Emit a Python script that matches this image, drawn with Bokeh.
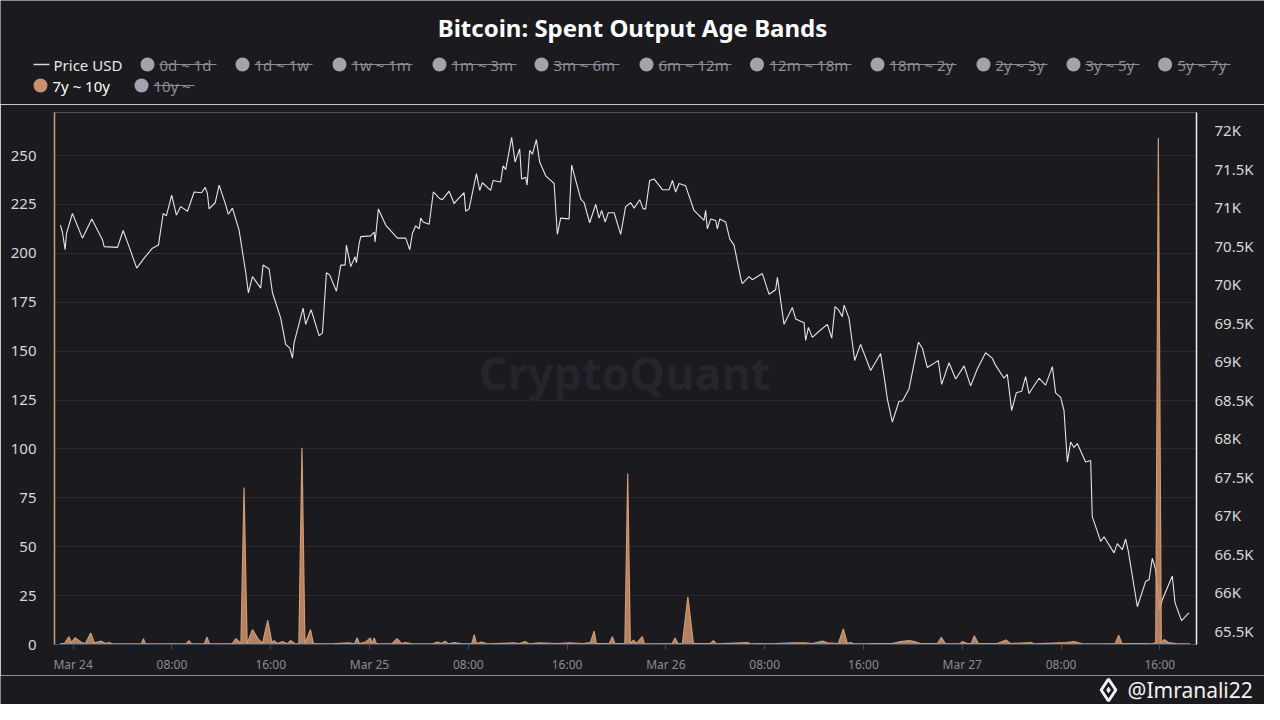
import pandas as pd
from bokeh.plotting import figure
from bokeh.models import (Range1d, LinearAxis, FixedTicker, CustomJSTickFormatter,
                          Label, ColumnDataSource)
from bokeh.embed import file_html
from bokeh.resources import INLINE
from bokeh.core.properties import value

# ---------------- data ----------------
START = pd.Timestamp("2024-03-24 00:00")

# hours after Mar 24 00:00 and BTC price (USD)
price_hours = [
    -1.03, -0.87, -0.65, -0.54, -0.06, 0.75, 1.51, 2.37, 2.51, 3.59,
    4.05, 4.53, 5.15, 5.75, 6.42, 6.91, 7.29, 7.55, 7.98, 8.36,
    8.71, 9.26, 9.80, 10.41, 10.69, 10.87, 11.01, 11.50, 11.82, 12.36,
    12.57, 12.90, 13.44, 13.98, 14.19, 14.52, 15.19, 15.38, 15.87, 16.14,
    16.81, 17.21, 17.54, 17.76, 17.89, 18.62, 18.83, 19.27, 19.92, 20.19,
    20.51, 20.78, 21.32, 21.67, 22.02, 22.13, 22.48, 22.83, 22.94, 23.16,
    23.29, 24.10, 24.37, 24.45, 24.72, 25.31, 26.26, 26.93, 27.26, 27.47,
    27.74, 28.02, 28.15, 28.34, 28.83, 29.17, 29.64, 29.90, 30.45, 30.85,
    31.12, 31.66, 31.79, 32.06, 32.66, 32.92, 33.14, 33.81, 34.01, 34.62,
    34.82, 35.03, 35.51, 35.79, 36.16, 36.32, 36.65, 36.76, 36.97, 37.19,
    37.51, 37.78, 38.27, 38.67, 38.95, 39.21, 39.48, 40.16, 40.37, 41.10,
    41.38, 41.83, 42.32, 42.59, 42.80, 43.08, 43.34, 43.81, 44.34, 44.74,
    45.15, 45.43, 45.88, 46.16, 46.36, 46.69, 47.04, 47.72, 48.26, 48.53,
    48.79, 49.07, 49.60, 50.28, 51.09, 51.22, 51.36, 51.63, 52.03, 52.17,
    52.36, 52.84, 53.17, 53.52, 54.06, 54.19, 54.74, 55.00, 55.81, 56.36,
    56.89, 57.03, 57.57, 58.24, 58.51, 59.19, 59.32, 59.54, 59.86, 60.40,
    61.08, 61.43, 61.70, 61.97, 62.29, 62.43, 62.83, 63.29, 63.77, 64.58,
    65.39, 65.75, 65.93, 66.34, 66.88, 67.15, 67.69, 68.45, 68.77, 69.17,
    69.58, 70.06, 70.33, 70.93, 71.47, 72.15, 72.68, 73.22, 73.89, 74.43,
    74.66, 75.38, 75.65, 76.00, 76.38, 76.81, 77.13, 77.41, 77.68, 78.22,
    78.75, 79.30, 79.56, 79.97, 80.24, 80.51, 80.78, 81.05, 81.32, 81.99,
    82.40, 82.53, 83.21, 83.48, 84.29, 84.56, 84.96, 85.23, 85.45, 86.18,
    86.85, 87.13, 87.39, 87.66, 87.98, 88.20, 89.01, 89.23, 89.76, 90.36,
]
price_usd = [
    70770, 70680, 70450, 70660, 70920, 70600, 70850, 70580, 70490, 70480,
    70700, 70490, 70210, 70340, 70470, 70510, 70920, 70890, 71160, 70900,
    71010, 70950, 71200, 71190, 71260, 71180, 70980, 71060, 71290, 71030,
    70910, 70990, 70700, 70150, 69890, 70100, 69950, 70250, 70200, 69890,
    69560, 69220, 69170, 69040, 69240, 69690, 69480, 69670, 69330, 69370,
    70150, 70120, 69910, 70250, 70250, 70510, 70230, 70360, 70280, 70530,
    70620, 70630, 70680, 70550, 70980, 70770, 70600, 70600, 70450, 70660,
    70760, 70720, 70860, 70810, 70780, 71200, 71120, 71100, 71210, 71050,
    71100, 71190, 70950, 70980, 71440, 71220, 71320, 71220, 71350, 71330,
    71540, 71490, 71910, 71590, 71760, 71370, 71390, 71290, 71740, 71690,
    71880, 71590, 71410, 71350, 71310, 70650, 70860, 70850, 71550, 71110,
    71060, 70800, 71040, 70860, 70960, 70810, 70930, 70930, 70650, 71010,
    71060, 70990, 71100, 70980, 70980, 71350, 71370, 71230, 71230, 71350,
    71200, 71310, 71280, 70960, 70830, 70960, 70720, 70850, 70830, 70720,
    70850, 70810, 70590, 70510, 70080, 70010, 70100, 70060, 70140, 69870,
    69930, 70090, 69480, 69700, 69550, 69500, 69270, 69440, 69310, 69390,
    69480, 69300, 69710, 69670, 69580, 69730, 69560, 69010, 69220, 68880,
    69100, 68720, 68510, 68210, 68480, 68480, 68640, 69250, 69170, 68920,
    68960, 69010, 68700, 68980, 68770, 68940, 68680, 68900, 69110, 69040,
    68960, 68780, 68830, 68360, 68590, 68610, 68800, 68580, 68650, 68780,
    68690, 68930, 68590, 68530, 68360, 67690, 67950, 67880, 67930, 67690,
    67710, 66980, 66660, 66720, 66510, 66630, 66550, 66690, 66530, 65810,
    66140, 66160, 66440, 66290, 65770, 65900, 66210, 65860, 65630, 65730,
]

# hours after Mar 24 00:00 and spent output (7y ~ 10y band)
band_hours = [
    -1.03, -0.70, -0.35, -0.14, 0.15, 0.67, 1.00, 1.42, 1.72, 2.29,
    2.62, 2.89, 3.18, 5.53, 5.69, 5.85, 9.17, 9.37, 9.58, 10.63,
    10.83, 11.04, 12.90, 13.19, 13.59, 13.84, 14.09, 14.52, 14.96, 15.33,
    15.76, 16.10, 16.26, 16.54, 16.95, 17.35, 17.60, 18.00, 18.28, 18.53,
    18.77, 19.21, 19.46, 21.00, 22.29, 22.78, 23.00, 23.18, 23.67, 24.07,
    24.23, 24.38, 24.56, 25.85, 26.23, 26.58, 26.91, 27.47, 29.09, 29.54,
    29.82, 30.12, 30.39, 30.87, 31.52, 32.29, 32.48, 32.66, 33.06, 33.55,
    35.73, 36.14, 36.60, 36.95, 37.76, 39.21, 40.19, 41.24, 41.89, 42.19,
    42.37, 43.42, 43.66, 43.87, 44.47, 44.68, 44.91, 45.12, 45.37, 45.61,
    46.09, 46.26, 48.52, 48.74, 48.97, 49.34, 49.78, 50.23, 51.60, 51.85,
    52.09, 54.64, 54.84, 56.87, 58.24, 59.30, 59.86, 60.67, 61.08, 61.97,
    62.37, 62.69, 62.94, 63.26, 64.07, 65.04, 66.34, 66.99, 67.72, 68.12,
    68.61, 69.99, 70.31, 70.63, 71.84, 72.00, 72.41, 72.73, 72.97, 73.30,
    74.84, 75.54, 75.89, 77.59, 77.84, 80.40, 81.07, 81.72, 83.34, 84.39,
    84.67, 84.92, 86.58, 87.39, 87.67, 87.88, 88.12, 88.35, 88.70, 89.42,
    90.47,
]
band_7y_10y = [
    0.5, 0.5, 3.9, 1.0, 3.4, 1.0, 0.5, 5.9, 0.8, 1.7,
    0.5, 1.0, 0.3, 0.3, 3.0, 0.3, 0.3, 2.0, 0.3, 0.3,
    3.8, 0.3, 0.5, 3.0, 0.5, 80.3, 0.5, 7.6, 3.0, 0.5,
    12.4, 0.8, 2.0, 0.5, 1.5, 0.3, 2.0, 0.3, 0.5, 100.6,
    0.5, 7.6, 0.5, 0.3, 0.8, 0.3, 3.4, 0.5, 1.2, 3.4,
    0.5, 3.4, 0.3, 0.5, 3.0, 0.5, 1.0, 0.3, 0.3, 1.2,
    0.5, 1.7, 0.3, 1.0, 0.3, 0.5, 5.0, 0.5, 1.2, 0.3,
    0.8, 0.5, 1.5, 0.3, 0.8, 0.5, 0.8, 0.5, 1.0, 6.8,
    0.5, 0.5, 4.0, 0.5, 0.5, 0.5, 87.4, 0.5, 2.2, 0.5,
    4.0, 0.3, 0.5, 3.3, 0.5, 0.5, 24.4, 0.5, 0.5, 2.0,
    0.3, 1.0, 0.3, 0.5, 0.8, 0.8, 0.5, 1.7, 0.8, 0.5,
    8.0, 0.5, 1.0, 0.3, 0.3, 0.5, 0.5, 1.5, 2.0, 1.5,
    0.5, 0.5, 3.7, 0.3, 0.5, 1.5, 0.5, 0.5, 4.4, 0.5,
    0.5, 2.3, 0.5, 1.0, 0.3, 1.0, 1.5, 0.3, 0.3, 0.5,
    4.7, 0.5, 0.5, 0.3, 1.0, 259.0, 1.0, 2.5, 1.0, 0.3,
    0.3,
]

left_ticks = [0, 25, 50, 75, 100, 125, 150, 175, 200, 225, 250]
price_ticks = [65500, 66000, 66500, 67000, 67500, 68000, 68500,
               69000, 69500, 70000, 70500, 71000, 71500, 72000]

title_text = "Bitcoin: Spent Output Age Bands"
legend_off = ["0d ~ 1d", "1d ~ 1w", "1w ~ 1m", "1m ~ 3m", "3m ~ 6m", "6m ~ 12m",
              "12m ~ 18m", "18m ~ 2y", "2y ~ 3y", "3y ~ 5y", "5y ~ 7y"]
legend_on_band = "7y ~ 10y"
legend_off_row2 = "10y ~"
handle_text = "@Imranali22"
watermark_text = "CryptoQuant"

# ---------------- styling / layout ----------------
BG = "#1a1a1f"
ORANGE_FILL = "#c8916d"
ORANGE_LINE = "#d39a72"
GRAY_TXT = "#8e8e98"
GRAY_DOT = "#a3a3ae"
FONT = value("Noto Sans")

assert len(price_hours) == len(price_usd)
assert len(band_hours) == len(band_7y_10y)


def strip(height):
    f = figure(width=1264, height=height, x_range=Range1d(0, 1264), y_range=Range1d(0, height),
               output_backend="svg", toolbar_location=None, min_border=0,
               x_axis_location=None, y_axis_location=None,
               background_fill_color=BG, border_fill_color=BG, outline_line_color=None)
    f.grid.visible = False
    return f


# ---- header: title + legend (pixel coordinates inside the strip) ----
row1_y, row2_y = 40, 19
dot_x = [147, 242, 339, 439, 541, 646, 756.5, 877, 983, 1073, 1164.6]
txt_x0 = [159, 254, 351, 451, 553, 658, 769, 889, 995, 1085, 1177]
txt_x1 = [216, 312, 412, 516, 619, 731, 851, 956, 1047, 1139, 1230]

hdr = strip(104)
hdr.text(x=[632], y=[77], text=[title_text], text_font=FONT, text_font_style="bold",
         text_font_size="24px", text_color="#ffffff", text_align="center",
         text_baseline="middle")
hdr.segment(x0=[33], y0=[row1_y], x1=[49], y1=[row1_y], line_color="#d8d8d8", line_width=1.5)
hdr.text(x=[53], y=[row1_y], text=["Price USD"], text_font=FONT, text_font_size="15px",
         text_color="#e8e8e8", text_align="left", text_baseline="middle")
hdr.scatter(x=dot_x, y=[row1_y] * len(dot_x), size=14, fill_color=GRAY_DOT, line_color=None)
hdr.text(x=txt_x0, y=[row1_y] * len(txt_x0), text=legend_off, text_font=FONT,
         text_font_size="15px", text_color=GRAY_TXT, text_align="left", text_baseline="middle")
hdr.segment(x0=txt_x0, y0=[row1_y] * len(txt_x0), x1=txt_x1, y1=[row1_y] * len(txt_x1),
            line_color=GRAY_TXT, line_width=1.2)
hdr.scatter(x=[40], y=[row2_y], size=14, fill_color=ORANGE_FILL, line_color=None)
hdr.text(x=[52], y=[row2_y], text=[legend_on_band], text_font=FONT, text_font_size="15px",
         text_color="#ffffff", text_align="left", text_baseline="middle")
hdr.scatter(x=[141], y=[row2_y], size=14, fill_color=GRAY_DOT, line_color=None)
hdr.text(x=[153], y=[row2_y], text=[legend_off_row2], text_font=FONT, text_font_size="15px",
         text_color=GRAY_TXT, text_align="left", text_baseline="middle")
hdr.segment(x0=[153], y0=[row2_y], x1=[194], y1=[row2_y], line_color=GRAY_TXT, line_width=1.2)

# ---------------- main chart ----------------
def ms(ts):
    return ts.value / 1e6


x_start = ms(START + pd.Timedelta(hours=-1.51))
x_end = ms(START + pd.Timedelta(hours=90.97))

p = figure(width=1264, height=571, x_axis_type="datetime",
           x_range=Range1d(x_start, x_end), y_range=Range1d(0, 272),
           output_backend="svg", toolbar_location=None,
           min_border_left=54, min_border_right=68, min_border_top=8, min_border_bottom=28,
           background_fill_color=BG, border_fill_color=BG, outline_line_color=None)

p.extra_y_ranges = {"price": Range1d(65319, 72233)}

price_src = ColumnDataSource(dict(
    t=START + pd.to_timedelta(price_hours, unit="h"), price=price_usd))
band_src = ColumnDataSource(dict(
    t=START + pd.to_timedelta(band_hours, unit="h"), v=band_7y_10y))

p.line(x="t", y="price", source=price_src, y_range_name="price",
       line_color="#e6e6e6", line_width=1.1)
p.varea(x="t", y1=0, y2="v", source=band_src, fill_color=ORANGE_FILL, fill_alpha=0.88)
p.line(x="t", y="v", source=band_src, line_color=ORANGE_LINE, line_width=1.2)

xticks = [ms(START + pd.Timedelta(hours=8 * k)) for k in range(0, 12)]
xa = p.xaxis[0]
xa.ticker = FixedTicker(ticks=xticks)
xa.formatter = CustomJSTickFormatter(code="""
const d = new Date(tick);
const h = d.getUTCHours();
const m = ["Jan","Feb","Mar","Apr","May","Jun","Jul","Aug","Sep","Oct","Nov","Dec"];
if (h === 0) { return m[d.getUTCMonth()] + " " + d.getUTCDate(); }
return (h < 10 ? "0" + h : "" + h) + ":00";
""")
xa.axis_line_color = "#4a4a52"
xa.major_tick_line_color = "#4a4a52"
xa.major_tick_out = 5
xa.major_tick_in = 0
xa.minor_tick_line_color = None
xa.major_label_text_color = "#8c8c96"
xa.major_label_text_font = "Noto Sans"
xa.major_label_text_font_size = "12px"
xa.major_label_standoff = 6

ya = p.yaxis[0]
ya.ticker = FixedTicker(ticks=left_ticks)
ya.axis_line_color = ORANGE_LINE
ya.axis_line_width = 1.5
ya.major_tick_line_color = None
ya.minor_tick_line_color = None
ya.major_label_text_color = "#d8d8d8"
ya.major_label_text_font = "Noto Sans"
ya.major_label_text_font_size = "15px"
ya.major_label_standoff = 12

ra = LinearAxis(y_range_name="price", ticker=FixedTicker(ticks=price_ticks),
                formatter=CustomJSTickFormatter(code="return (tick / 1000) + 'K';"))
ra.axis_line_color = "#f0f0f0"
ra.axis_line_width = 1.5
ra.major_tick_line_color = None
ra.minor_tick_line_color = None
ra.major_label_text_color = "#d8d8d8"
ra.major_label_text_font = "Noto Sans"
ra.major_label_text_font_size = "15px"
ra.major_label_standoff = 12
p.add_layout(ra, "right")

p.xgrid.visible = False
p.ygrid.grid_line_color = "#2a2a31"
p.ygrid.grid_line_width = 1

p.add_layout(Label(x=570, y=272, x_units="screen", y_units="screen", text=watermark_text,
                   text_font="Noto Sans", text_font_size="45px", text_font_style="bold",
                   text_color="#25252c", text_align="center", text_baseline="middle"))

# ---- footer strip with the author handle ----
ftr = strip(29)
ftr.scatter(x=[1108], y=[14.5], marker="diamond", size=22, fill_color=None,
            line_color="#f2f2f2", line_width=3)
ftr.scatter(x=[1108], y=[14.5], marker="diamond", size=7, fill_color="#f2f2f2", line_color=None)
ftr.text(x=[1127], y=[14.5], text=[handle_text], text_font=FONT, text_font_size="21px",
         text_color="#f2f2f2", text_align="left", text_baseline="middle")

html = file_html([hdr, p, ftr], INLINE)
html = html.replace(
    "<body>",
    '<body style="background-color:%s;"><style>body > div { display:block; line-height:0; }</style>' % BG,
    1)
open("out.html", "w").write(html)
